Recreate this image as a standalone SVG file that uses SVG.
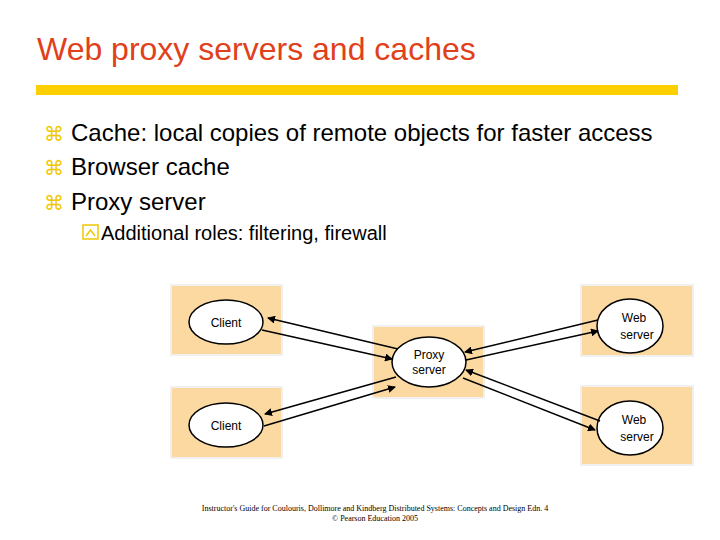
<svg xmlns="http://www.w3.org/2000/svg" width="720" height="540" viewBox="0 0 720 540">
<style>
.t{font-family:"Liberation Sans",Arial,sans-serif;fill:#000}
.box{fill:#fcd9a0;stroke:#f0f0f0;stroke-width:2}
.el{fill:#fff;stroke:#000;stroke-width:1.5}
.nl{font-family:"Liberation Sans",Arial,sans-serif;font-size:12px;fill:#000;text-anchor:middle}
.ln{stroke:#000;stroke-width:1.5;fill:none;marker-end:url(#ah)}
.b{font-family:"DejaVu Sans",sans-serif;fill:#f0c800;font-size:20px}
</style>
<defs>
<marker id="ah" markerWidth="8" markerHeight="8" refX="7" refY="4" orient="auto" markerUnits="userSpaceOnUse">
<path d="M0,0 L8,4 L0,8 Z" fill="#000"/>
</marker>
</defs>
<rect width="720" height="540" fill="#fff"/>
<text x="37" y="60" font-family="Liberation Sans,Arial,sans-serif" font-size="32" fill="#e0401a">Web proxy servers and caches</text>
<rect x="36" y="85" width="642" height="10" fill="#fcd000"/>
<text class="b" x="44" y="141">⌘</text>
<text class="t" x="71" y="141" font-size="24">Cache: local copies of remote objects for faster access</text>
<text class="b" x="44" y="175">⌘</text>
<text class="t" x="71" y="175" font-size="24">Browser cache</text>
<text class="b" x="44" y="210">⌘</text>
<text class="t" x="71" y="210" font-size="24">Proxy server</text>
<rect x="83" y="225" width="15" height="14" fill="#fff" stroke="#f0c800" stroke-width="1.5"/>
<path d="M86,236 L90.5,230 L95,236" fill="none" stroke="#f0c800" stroke-width="1.5"/>
<text class="t" x="101" y="240" font-size="20">Additional roles: filtering, firewall</text>
<g id="client1"><rect class="box" x="171" y="285" width="111" height="70"/><ellipse class="el" cx="226" cy="322" rx="37" ry="22"/><text class="nl" x="226" y="327">Client</text></g>
<g id="client2"><rect class="box" x="171" y="387" width="111" height="71"/><ellipse class="el" cx="226" cy="425" rx="37" ry="22"/><text class="nl" x="226" y="430">Client</text></g>
<g id="proxy"><rect class="box" x="373" y="326" width="111" height="72"/><ellipse class="el" cx="429" cy="362" rx="37" ry="25"/><text class="nl" x="429" y="359">Proxy</text><text class="nl" x="429" y="374">server</text></g>
<g id="web1"><rect class="box" x="581" y="285" width="112" height="71"/><ellipse class="el" cx="630" cy="326" rx="33" ry="27"/><text class="nl" x="634" y="322">Web</text><text class="nl" x="637" y="339">server</text></g>
<g id="web2"><rect class="box" x="581" y="386" width="112" height="79"/><ellipse class="el" cx="630" cy="428" rx="33" ry="27"/><text class="nl" x="634" y="424">Web</text><text class="nl" x="637" y="441">server</text></g>
<g id="connectors">
<line class="ln" x1="398" y1="349" x2="268" y2="318"/>
<line class="ln" x1="262" y1="330" x2="392" y2="359"/>
<line class="ln" x1="396" y1="377" x2="265" y2="414"/>
<line class="ln" x1="264" y1="426" x2="395" y2="387"/>
<line class="ln" x1="598" y1="320" x2="465" y2="352"/>
<line class="ln" x1="466" y1="360" x2="598" y2="331"/>
<line class="ln" x1="600" y1="421" x2="466" y2="370"/>
<line class="ln" x1="463" y1="378" x2="595" y2="430"/>
</g>
<text x="375" y="511" text-anchor="middle" font-family="Liberation Serif,serif" font-size="8">Instructor's Guide for  Coulouris, Dollimore and Kindberg   Distributed Systems: Concepts and Design   Edn. 4</text>
<text x="375" y="521" text-anchor="middle" font-family="Liberation Serif,serif" font-size="8">©  Pearson Education 2005</text>
</svg>
